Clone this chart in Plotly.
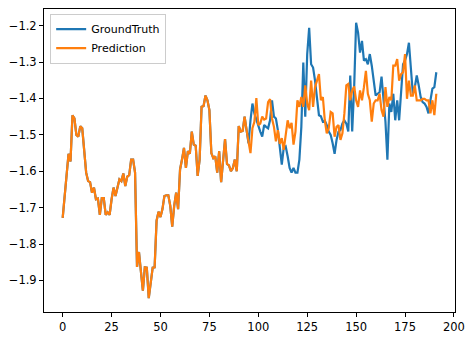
import numpy as np
import plotly.graph_objects as go

# Shared input window (steps 0-95): identical for both series
history = [
    -1.728, -1.672, -1.613, -1.552, -1.573, -1.446, -1.455, -1.500, -1.505, -1.476,
    -1.482, -1.550, -1.604, -1.627, -1.630, -1.659, -1.645, -1.677, -1.675, -1.720,
    -1.674, -1.674, -1.720, -1.713, -1.720, -1.677, -1.645, -1.668, -1.645, -1.622,
    -1.627, -1.606, -1.641, -1.615, -1.611, -1.568, -1.568, -1.604, -1.863, -1.822,
    -1.876, -1.928, -1.864, -1.865, -1.949, -1.912, -1.865, -1.864, -1.736, -1.711,
    -1.726, -1.704, -1.668, -1.666, -1.666, -1.695, -1.752, -1.695, -1.659, -1.704,
    -1.595, -1.568, -1.536, -1.591, -1.545, -1.552, -1.491, -1.527, -1.530, -1.613,
    -1.568, -1.423, -1.421, -1.392, -1.405, -1.432, -1.550, -1.564, -1.559, -1.604,
    -1.545, -1.630, -1.577, -1.512, -1.580, -1.584, -1.600, -1.591, -1.568, -1.600,
    -1.476, -1.491, -1.489, -1.450, -1.487, -1.523,
]

# Horizon (steps 96-191): observed values
truth = [
    -1.460, -1.414, -1.441, -1.460, -1.478, -1.491, -1.505, -1.473, -1.478, -1.482,
    -1.460, -1.405, -1.450, -1.455, -1.487, -1.532, -1.582, -1.536, -1.532, -1.559,
    -1.591, -1.604, -1.591, -1.604, -1.604, -1.568, -1.478, -1.301, -1.450, -1.278,
    -1.206, -1.306, -1.315, -1.351, -1.396, -1.446, -1.449, -1.464, -1.461, -1.473,
    -1.491, -1.500, -1.523, -1.552, -1.514, -1.491, -1.487, -1.469, -1.460, -1.469,
    -1.491, -1.337, -1.491, -1.369, -1.192, -1.219, -1.274, -1.242, -1.296, -1.292,
    -1.306, -1.278, -1.310, -1.346, -1.392, -1.387, -1.383, -1.340, -1.396, -1.464,
    -1.568, -1.414, -1.437, -1.387, -1.460, -1.405, -1.460, -1.369, -1.306, -1.296,
    -1.278, -1.247, -1.306, -1.387, -1.369, -1.337, -1.364, -1.396, -1.410, -1.414,
    -1.423, -1.441, -1.405, -1.373, -1.369, -1.328,
]

# Horizon (steps 96-191): model forecast
forecast = [
    -1.550, -1.482, -1.464, -1.399, -1.473, -1.469, -1.450, -1.458, -1.455, -1.410,
    -1.402, -1.455, -1.478, -1.518, -1.487, -1.525, -1.509, -1.541, -1.505, -1.460,
    -1.482, -1.467, -1.527, -1.491, -1.405, -1.423, -1.396, -1.423, -1.364, -1.414,
    -1.432, -1.351, -1.423, -1.369, -1.351, -1.333, -1.405, -1.396, -1.460, -1.496,
    -1.482, -1.437, -1.441, -1.505, -1.478, -1.473, -1.514, -1.496, -1.441, -1.364,
    -1.360, -1.405, -1.378, -1.367, -1.405, -1.423, -1.378, -1.405, -1.369, -1.324,
    -1.387, -1.405, -1.464, -1.414, -1.405, -1.405, -1.387, -1.432, -1.450, -1.369,
    -1.423, -1.396, -1.405, -1.310, -1.310, -1.292, -1.351, -1.333, -1.328, -1.278,
    -1.401, -1.351, -1.392, -1.392, -1.364, -1.405, -1.405, -1.405, -1.401, -1.401,
    -1.405, -1.405, -1.441, -1.405, -1.446, -1.387,
]

x_ticks = [0, 25, 50, 75, 100, 125, 150, 175, 200]
y_ticks = [-1.9, -1.8, -1.7, -1.6, -1.5, -1.4, -1.3, -1.2]

gt = np.concatenate([history, truth])
pd_ = np.concatenate([history, forecast])
steps = np.arange(len(gt))

# axis limits with 5% padding around the data
xmin, xmax = steps.min(), steps.max()
xpad = 0.05 * (xmax - xmin)
allv = np.concatenate([gt, pd_])
ymin, ymax = allv.min(), allv.max()
ypad = 0.05 * (ymax - ymin)

fig = go.Figure()
fig.add_trace(go.Scatter(x=steps, y=gt, mode="lines", name="GroundTruth",
                         line=dict(color="#1f77b4", width=2.2)))
fig.add_trace(go.Scatter(x=steps, y=pd_, mode="lines", name="Prediction",
                         line=dict(color="#ff7f0e", width=2.2)))

font = "DejaVu Sans, sans-serif"
axis_common = dict(showline=True, linecolor="black", linewidth=1, mirror=True,
                   ticks="outside", ticklen=4, tickwidth=1, tickcolor="black",
                   showgrid=False, zeroline=False,
                   tickfont=dict(family=font, size=11.5, color="black"))

fig.update_xaxes(range=[xmin - xpad, xmax + xpad], tickvals=x_ticks,
                 ticktext=[str(v) for v in x_ticks], **axis_common)
fig.update_yaxes(range=[ymin - ypad, ymax + ypad], tickvals=y_ticks,
                 ticktext=[f"{v:.1f}".replace("-", "\u2212") for v in y_ticks],
                 **axis_common)

fig.update_layout(
    width=474, height=342,
    margin=dict(l=44, r=19, t=8, b=28),
    paper_bgcolor="white", plot_bgcolor="white",
    showlegend=True,
    legend=dict(x=0.015, y=0.985, xanchor="left", yanchor="top",
                bgcolor="rgba(255,255,255,0.8)", bordercolor="#cccccc",
                borderwidth=1, font=dict(family=font, size=11, color="black"),
                itemwidth=30, tracegroupgap=0),
)

fig.write_html("out.html")
